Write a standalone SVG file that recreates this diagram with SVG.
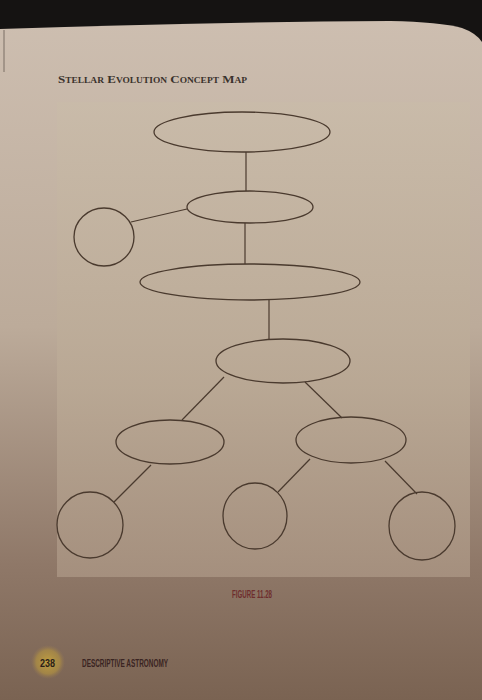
<svg xmlns="http://www.w3.org/2000/svg" width="482" height="700" viewBox="0 0 482 700">
  <defs>
    <linearGradient id="page" x1="0" y1="0" x2="0" y2="1">
      <stop offset="0" stop-color="#cdbeb0"/>
      <stop offset="0.45" stop-color="#bcab9a"/>
      <stop offset="0.8" stop-color="#8f7868"/>
      <stop offset="1" stop-color="#7a6352"/>
    </linearGradient>
    <linearGradient id="box" x1="0" y1="0" x2="0" y2="1">
      <stop offset="0" stop-color="#c9bba9"/>
      <stop offset="0.6" stop-color="#baa995"/>
      <stop offset="1" stop-color="#a99482"/>
    </linearGradient>
    <radialGradient id="dot">
      <stop offset="0" stop-color="#c8a43c" stop-opacity="0.9"/>
      <stop offset="0.7" stop-color="#b8973e" stop-opacity="0.6"/>
      <stop offset="1" stop-color="#a08050" stop-opacity="0"/>
    </radialGradient>
    <style>
      .shape { fill: none; stroke: #4a3a2e; stroke-width: 1.3; }
      .link { stroke: #4a3a2e; stroke-width: 1.2; fill: none; }
      .title { font-family: "Liberation Serif", "DejaVu Serif", serif; font-weight: bold; fill: #3a322c; font-variant: small-caps; }
      .label { font-family: "Liberation Sans", "DejaVu Sans", sans-serif; font-weight: bold; }
    </style>
  </defs>

  <rect x="0" y="0" width="482" height="700" fill="#151312"/>
  <path d="M0,29 Q200,22 390,21 Q440,22 462,28 Q476,33 482,42 L482,700 L0,700 Z" fill="url(#page)"/>
  <line x1="4" y1="30" x2="4" y2="72" stroke="#7a6e64" stroke-width="1"/>
  <rect x="57" y="102" width="413" height="475" fill="url(#box)" opacity="0.85"/>

  <text class="title" x="58" y="83" font-size="11" textLength="189" lengthAdjust="spacingAndGlyphs">Stellar Evolution Concept Map</text>

  <g id="connectors">
    <line class="link" x1="246" y1="152" x2="246" y2="191"/>
    <line class="link" x1="131" y1="222" x2="187" y2="209"/>
    <line class="link" x1="245" y1="223" x2="245" y2="264"/>
    <line class="link" x1="269" y1="300" x2="269" y2="340"/>
    <line class="link" x1="224" y1="377" x2="182" y2="420"/>
    <line class="link" x1="305" y1="382" x2="342" y2="418"/>
    <line class="link" x1="151" y1="465" x2="114" y2="502"/>
    <line class="link" x1="310" y1="459" x2="278" y2="492"/>
    <line class="link" x1="385" y1="461" x2="417" y2="494"/>
  </g>

  <g id="n1"><ellipse class="shape" cx="242" cy="132" rx="88" ry="20"/></g>
  <g id="n2"><ellipse class="shape" cx="250" cy="207" rx="63" ry="16"/></g>
  <g id="n3"><ellipse class="shape" cx="104" cy="237" rx="30" ry="29"/></g>
  <g id="n4"><ellipse class="shape" cx="250" cy="282" rx="110" ry="18"/></g>
  <g id="n5"><ellipse class="shape" cx="283" cy="361" rx="67" ry="22"/></g>
  <g id="n6"><ellipse class="shape" cx="170" cy="442" rx="54" ry="22"/></g>
  <g id="n7"><ellipse class="shape" cx="351" cy="440" rx="55" ry="23"/></g>
  <g id="n8"><ellipse class="shape" cx="90" cy="525" rx="33" ry="33"/></g>
  <g id="n9"><ellipse class="shape" cx="255" cy="516" rx="32" ry="33"/></g>
  <g id="n10"><ellipse class="shape" cx="422" cy="526" rx="33" ry="34"/></g>

  <text class="label" x="232" y="598" font-size="10" fill="#6e2e2e" textLength="40" lengthAdjust="spacingAndGlyphs">FIGURE 11.28</text>

  <circle cx="48" cy="662" r="17" fill="url(#dot)"/>
  <text class="label" x="40" y="667" font-size="11" fill="#2a1e18" textLength="15" lengthAdjust="spacingAndGlyphs">238</text>
  <text class="label" x="82" y="667" font-size="10" fill="#3a2422" textLength="86" lengthAdjust="spacingAndGlyphs">DESCRIPTIVE ASTRONOMY</text>
</svg>
